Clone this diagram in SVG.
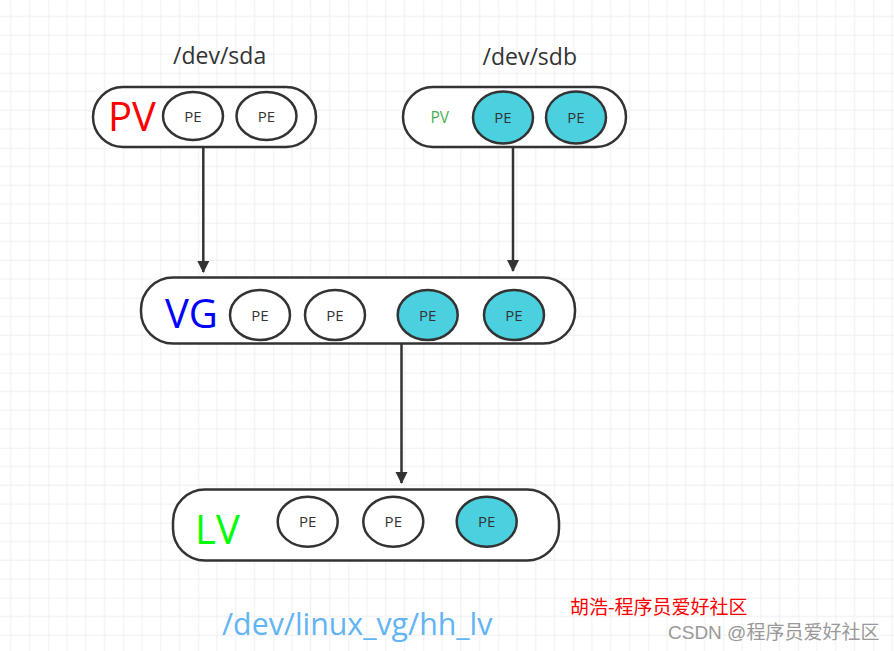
<svg xmlns="http://www.w3.org/2000/svg" width="894" height="651" viewBox="0 0 894 651">
  <defs>
    <pattern id="grid" patternUnits="userSpaceOnUse" x="48.3" y="72.7" width="75" height="75">
      <path d="M18.75 0V75M37.5 0V75M56.25 0V75M0 18.75H75M0 37.5H75M0 56.25H75" stroke="#efefef" stroke-width="1" fill="none"/>
      <path d="M0 0V75M0 0H75" stroke="#e4e4e4" stroke-width="1" fill="none"/>
    </pattern>
    <marker id="arrow" viewBox="0 0 12 18" refX="11" refY="9" markerWidth="12" markerHeight="18" markerUnits="userSpaceOnUse" orient="auto">
      <path d="M0 3L12 9L0 15Z" fill="#333"/>
    </marker>
    <style>
      .box{fill:#fff;stroke:#333;stroke-width:2.5}
      .pe{fill:#fff;stroke:#333;stroke-width:2.5}
      .pe.c{fill:#4bd0e0}
      .pet{font-family:"Open Sans","Noto Sans",sans-serif;font-size:15px;fill:#333;text-anchor:middle}
      .big{font-family:"Open Sans","Noto Sans",sans-serif;font-size:40px}
      .dev{font-family:"Open Sans","Noto Sans",sans-serif;font-size:23px;fill:#333}
      .conn{stroke:#333;stroke-width:2.5;fill:none}
    </style>
  </defs>
  <rect width="894" height="651" fill="#fff"/>
  <rect width="894" height="651" fill="url(#grid)"/>

  <g id="connectors">
    <line class="conn" x1="203.3" y1="148" x2="203.3" y2="272" marker-end="url(#arrow)"/>
    <line class="conn" x1="513" y1="148" x2="513" y2="271" marker-end="url(#arrow)"/>
    <line class="conn" x1="401.5" y1="344" x2="401.5" y2="483" marker-end="url(#arrow)"/>
  </g>

  <g id="label-sda"><text class="dev" x="173" y="64">/dev/sda</text></g>
  <g id="label-sdb"><text class="dev" x="482.5" y="65">/dev/sdb</text></g>

  <g id="pv-sda">
    <rect class="box" x="93" y="87" width="223" height="60" rx="30"/>
    <text class="big" x="108" y="131" fill="#ff0000">PV</text>
    <ellipse class="pe" cx="193" cy="116" rx="30" ry="24"/>
    <text class="pet" x="193" y="121.5">PE</text>
    <ellipse class="pe" cx="266.5" cy="116" rx="30" ry="24"/>
    <text class="pet" x="266.5" y="121.5">PE</text>
  </g>

  <g id="pv-sdb">
    <rect class="box" x="403" y="87" width="223" height="60" rx="30"/>
    <text x="430.5" y="122.5" font-family="Open Sans, Noto Sans, sans-serif" font-size="15.5" fill="#4caf50">PV</text>
    <ellipse class="pe c" cx="503" cy="117.5" rx="30" ry="26"/>
    <text class="pet" x="503" y="123">PE</text>
    <ellipse class="pe c" cx="576" cy="117.5" rx="30" ry="26"/>
    <text class="pet" x="576" y="123">PE</text>
  </g>

  <g id="vg">
    <rect class="box" x="141" y="277.5" width="434" height="66" rx="32"/>
    <text class="big" x="165" y="327.5" fill="#0000ff">VG</text>
    <ellipse class="pe" cx="260" cy="315" rx="30" ry="25"/>
    <text class="pet" x="260" y="320.5">PE</text>
    <ellipse class="pe" cx="335" cy="315" rx="30" ry="25"/>
    <text class="pet" x="335" y="320.5">PE</text>
    <ellipse class="pe c" cx="427.7" cy="315" rx="30" ry="25"/>
    <text class="pet" x="427.7" y="320.5">PE</text>
    <ellipse class="pe c" cx="514" cy="315" rx="30" ry="25"/>
    <text class="pet" x="514" y="320.5">PE</text>
  </g>

  <g id="lv">
    <rect class="box" x="173" y="489.5" width="386" height="71" rx="32"/>
    <text class="big" x="195" y="543.5" fill="#00ff00" font-size="41">LV</text>
    <ellipse class="pe" cx="307.7" cy="521.7" rx="30" ry="25"/>
    <text class="pet" x="307.7" y="527.2">PE</text>
    <ellipse class="pe" cx="393.3" cy="521.7" rx="30" ry="25"/>
    <text class="pet" x="393.3" y="527.2">PE</text>
    <ellipse class="pe c" cx="486.7" cy="521.7" rx="30" ry="25"/>
    <text class="pet" x="486.7" y="527.2">PE</text>
  </g>

  <g id="lv-path"><text x="222" y="635" font-family="Open Sans, Noto Sans, sans-serif" font-size="30.3" fill="#62b4f4">/dev/linux_vg/hh_lv</text></g>
  <g id="author"><text x="570" y="614" font-family="Noto Sans CJK SC, sans-serif" font-size="19" fill="#ff0000">胡浩-程序员爱好社区</text></g>
  <g id="watermark"><text x="668" y="639" font-family="Liberation Sans, Noto Sans CJK SC, sans-serif" font-size="19" fill="#999999">CSDN @程序员爱好社区</text></g>
</svg>
